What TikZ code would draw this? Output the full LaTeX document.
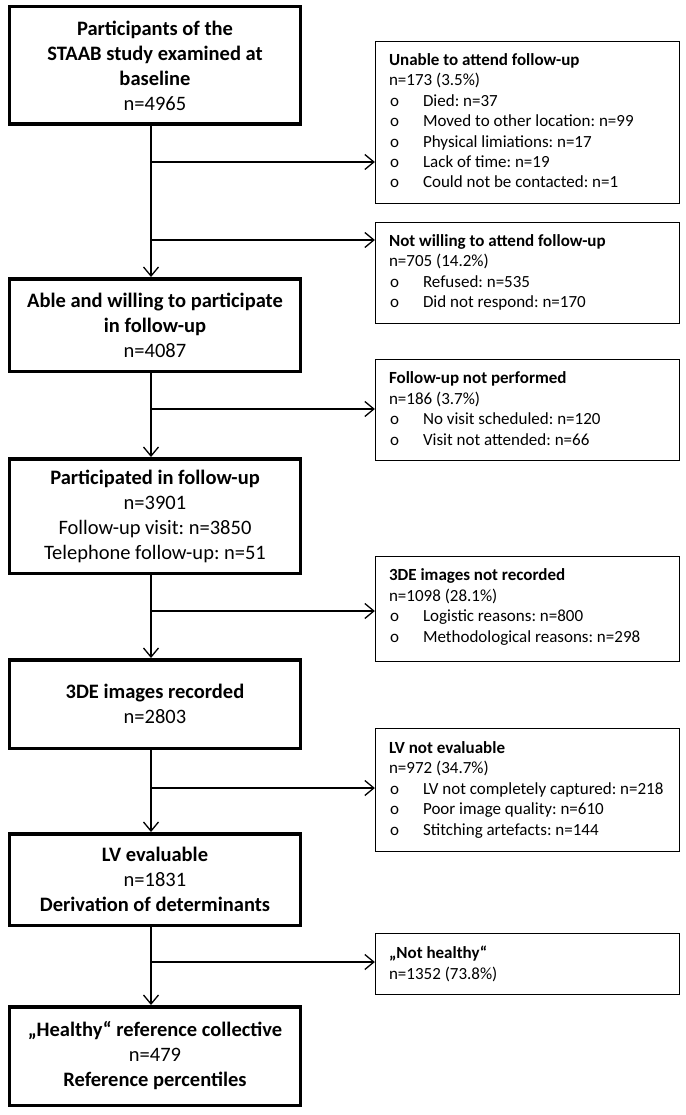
\documentclass[tikz,border=0pt]{standalone}
\usepackage{fontspec}
\setmainfont{Carlito}
\usetikzlibrary{arrows.meta}
\newcommand{\bl}{\hspace*{1pt}\makebox[33pt][l]{o}}
\frenchspacing
\begin{document}
\begin{tikzpicture}[x=1pt,y=-1pt,
  mainbox/.style={draw, line width=3.5pt, minimum width=291pt, inner sep=0pt, align=center, font=\fontsize{20.5}{25}\selectfont},
  sidebox/.style={draw, line width=1.3pt, minimum width=304pt, inner sep=0pt},
  sidetext/.style={anchor=north west, inner sep=0pt, align=left, font=\fontsize{17}{20.4}\selectfont},
  conn/.style={line width=1.3pt, -{Straight Barb[length=9pt,width=15pt,line width=1.3pt]}}]
\useasboundingbox[fill=white] (0,0) rectangle (685,1115);

% main boxes
\node[mainbox, minimum height=117.5pt] (b1) at (155,65.5) {\textbf{Participants of the}\\\textbf{STAAB study examined at}\\\textbf{baseline}\\n=4965};
\node[mainbox, minimum height=92.5pt] (b2) at (155,325) {\textbf{Able and willing to participate}\\\textbf{in follow-up}\\n=4087};
\node[mainbox, minimum height=114.5pt] (b3) at (155,516) {\textbf{Participated in follow-up}\\n=3901\\Follow-up visit: n=3850\\Telephone follow-up: n=51};
\node[mainbox, minimum height=88.5pt] (b4) at (155,704) {\textbf{3DE images recorded}\\n=2803};
\node[mainbox, minimum height=91.5pt] (b5) at (155,879.5) {\textbf{LV evaluable}\\n=1831\\\textbf{Derivation of determinants}};
\node[mainbox, minimum height=98.5pt] (b6) at (155,1056) {\textbf{„Healthy“ reference collective}\\n=479\\\textbf{Reference percentiles}};

% side boxes
\node[sidebox, minimum height=162pt] (r1) at (527.5,122.5) {};
\node[sidebox, minimum height=101pt] (r2) at (527.5,273) {};
\node[sidebox, minimum height=101pt] (r3) at (527.5,410) {};
\node[sidebox, minimum height=105pt] (r4) at (527.5,609) {};
\node[sidebox, minimum height=123pt] (r5) at (527.5,790) {};
\node[sidebox, minimum height=61pt] (r6) at (527.5,964) {};

\node[sidetext] (t1) at ([shift={(14,12.5)}]r1.north west) {\textbf{Unable to attend follow-up}\\n=173 (3.5\%)\\\bl Died: n=37\\\bl Moved to other location: n=99\\\bl Physical limiations: n=17\\\bl Lack of time: n=19\\\bl Could not be contacted: n=1};
\node[sidetext] (t2) at ([shift={(14,12.5)}]r2.north west) {\textbf{Not willing to attend follow-up}\\n=705 (14.2\%)\\\bl Refused: n=535\\\bl Did not respond: n=170};
\node[sidetext] (t3) at ([shift={(14,13)}]r3.north west) {\textbf{Follow-up not performed}\\n=186 (3.7\%)\\\bl No visit scheduled: n=120\\\bl Visit not attended: n=66};
\node[sidetext] (t4) at ([shift={(14,13)}]r4.north west) {\textbf{3DE images not recorded}\\n=1098 (28.1\%)\\\bl Logistic reasons: n=800\\\bl Methodological reasons: n=298};
\node[sidetext] (t5) at ([shift={(14,13.5)}]r5.north west) {\textbf{LV not evaluable}\\n=972 (34.7\%)\\\bl LV not completely captured: n=218\\\bl Poor image quality: n=610\\\bl Stitching artefacts: n=144};
\node[sidetext] (t6) at ([shift={(14,13)}]r6.north west) {\textbf{„Not healthy“}\\n=1352 (73.8\%)};

% junctions
\coordinate (j1) at (151,162);
\coordinate (j2) at (151,240);
\coordinate (j3) at (151,409);
\coordinate (j4) at (151,611);
\coordinate (j5) at (151,788);
\coordinate (j6) at (151,962);

% trunk
\draw[conn] (b1.south -| j1) -- (b2.north -| j1);
\draw[conn] (b2.south -| j1) -- (b3.north -| j1);
\draw[conn] (b3.south -| j1) -- (b4.north -| j1);
\draw[conn] (b4.south -| j1) -- (b5.north -| j1);
\draw[conn] (b5.south -| j1) -- (b6.north -| j1);

% branches
\draw[conn] (j1) -- (j1 -| r1.west);
\draw[conn] (j2) -- (j2 -| r2.west);
\draw[conn] (j3) -- (j3 -| r3.west);
\draw[conn] (j4) -- (j4 -| r4.west);
\draw[conn] (j5) -- (j5 -| r5.west);
\draw[conn] (j6) -- (j6 -| r6.west);
\end{tikzpicture}
\end{document}
